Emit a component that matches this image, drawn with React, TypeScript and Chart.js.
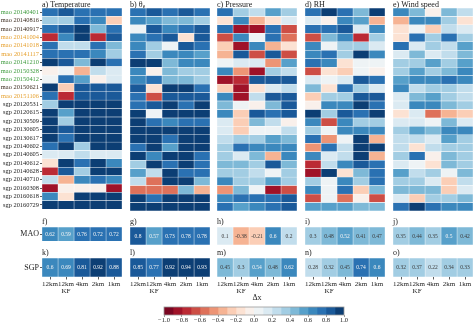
import React, { useEffect, useRef } from 'react';
import { Chart, registerables } from 'chart.js';

Chart.register(...registerables);

const FONT = '"Liberation Serif", "DejaVu Serif", serif';

// ---------- data ----------
const CASES = [
  'mao 20140401', 'mao 20140816', 'mao 20140917', 'mao 20141004', 'mao 20141018',
  'mao 20141117', 'mao 20141210', 'mao 20150328', 'mao 20150412', 'mao 20150621',
  'mao 20151106', 'sgp 20120531', 'sgp 20120615', 'sgp 20130509', 'sgp 20130605',
  'sgp 20130617', 'sgp 20140602', 'sgp 20140605', 'sgp 20140612', 'sgp 20140628',
  'sgp 20140710', 'sgp 20160308', 'sgp 20160618', 'sgp 20160729',
];
const WET = '#3c9a3c';
const DRY = '#3a2a1e';
const TRANS = '#e6a02e';
const SGPC = '#1a1a1a';
const CASE_COLORS = [
  WET, DRY, DRY, TRANS, TRANS, TRANS, WET, WET, WET, DRY, TRANS,
  SGPC, SGPC, SGPC, SGPC, SGPC, SGPC, SGPC, SGPC, SGPC, SGPC, SGPC, SGPC, SGPC,
];

const RESOLUTIONS = ['12km', '12km KF', '4km', '2km', '1km'];
const RESOLUTION_TICKS: (string | string[])[] = ['12km', ['12km', 'KF'], '4km', '2km', '1km'];

const TEMPERATURE = [
  [0.7, 0.85, 0.75, 0.7, 0.75],
  [0.35, 0.3, 0.7, 0.65, -0.3],
  [0.7, 0.85, 0.9, 0.45, 0.7],
  [-0.75, 0.6, 0.9, -0.75, 0.85],
  [0.7, 0.2, 0.25, 0.7, 0.45],
  [0.7, 0.75, 0.7, 0.6, 0.35],
  [0.9, 0.85, 0.45, 0.9, 0.7],
  [-0.1, 0.05, -0.35, 0.2, 0.1],
  [0.05, 0.7, 0.55, -0.05, 0.1],
  [0.9, -0.3, 0.85, 0.85, 0.85],
  [0.7, -0.75, 0.85, 0.85, 0.85],
  [0.35, 0.9, 0.9, 0.9, 0.9],
  [0.9, 0.5, 0.9, 0.9, 0.9],
  [0.9, 0.35, 0.9, 0.9, 0.9],
  [0.9, 0.85, 0.9, 0.9, 0.9],
  [0.9, 0.75, 0.9, 0.9, 0.9],
  [0.7, 0.9, 0.3, 0.9, 0.9],
  [0.1, 0.15, 0.2, 0.15, 0.1],
  [-0.2, 0.9, 0.7, 0.9, 0.6],
  [-0.8, 0.85, 0.3, 0.9, 0.9],
  [0.2, -0.35, 0.65, 0.7, 0.65],
  [-0.9, -0.1, -0.05, -0.05, -0.9],
  [0.65, -0.2, 0.9, 0.9, 0.9],
  [0.9, 0.9, 0.9, 0.9, 0.9],
];

const THETA_E = [
  [0.7, 0.85, 0.7, 0.8, 0.7],
  [0.65, 0.55, 0.4, 0.4, 0.35],
  [0.05, 0.85, 0.65, 0.7, 0.85],
  [0.65, 0.7, 0.8, -0.15, 0.85],
  [0.65, 0.3, 0.05, 0.85, 0.7],
  [0.7, 0.35, 0.6, 0.65, 0.55],
  [0.9, 0.9, 0.45, 0.65, 0.6],
  [0.6, -0.05, 0.4, 0.35, 0.35],
  [0.6, 0.7, 0.45, 0.4, 0.3],
  [0.85, -0.2, 0.9, 0.9, 0.75],
  [0.7, -0.7, 0.85, 0.85, 0.85],
  [0.7, 0.85, 0.9, 0.75, 0.9],
  [0.9, 0.02, 0.9, 0.9, 0.9],
  [0.9, 0.75, 0.6, 0.75, 0.7],
  [0.9, 0.9, 0.9, 0.9, 0.9],
  [0.9, 0.9, 0.75, 0.9, 0.9],
  [0.75, 0.9, 0.5, 0.9, 0.9],
  [0.9, 0.6, 0.9, 0.9, 0.75],
  [0.35, 0.9, 0.75, 0.9, 0.7],
  [0.55, 0.25, 0.9, 0.75, 0.75],
  [0.25, -0.6, 0.9, 0.9, 0.45],
  [-0.6, -0.6, -0.6, 0.45, -0.4],
  [0.9, 0.7, 0.9, 0.9, 0.9],
  [0.9, 0.9, 0.9, 0.9, 0.9],
];

const PRESSURE = [
  [0.7, 0.35, 0.25, 0.55, 0.35],
  [-0.15, 0.65, -0.35, -0.2, 0.1],
  [0.7, -0.9, -0.9, 0.7, -0.7],
  [-0.7, 0.6, 0.05, 0.7, -0.6],
  [-0.25, -0.9, 0.6, -0.35, -0.15],
  [-0.35, 0.85, -0.65, 0.85, -0.7],
  [0.05, 0.1, 0.15, -0.45, 0.55],
  [0.6, -0.45, -0.9, 0.35, 0.2],
  [-0.9, -0.75, 0.85, 0.85, 0.85],
  [-0.25, -0.9, -0.2, 0.1, 0.2],
  [0.6, -0.85, 0.2, 0.85, 0.85],
  [0.4, 0.0, -0.05, 0.4, 0.85],
  [0.6, -0.3, 0.85, 0.75, 0.85],
  [0.1, -0.3, 0.4, 0.25, -0.1],
  [0.1, -0.3, 0.05, 0.05, 0.2],
  [0.25, 0.3, 0.3, 0.55, 0.4],
  [0.35, 0.7, 0.65, 0.65, 0.65],
  [0.3, 0.1, 0.45, -0.35, 0.6],
  [0.45, 0.4, 0.3, 0.85, 0.4],
  [0.3, 0.3, 0.25, 0.05, 0.3],
  [0.65, 0.3, 0.3, 0.55, 0.3],
  [-0.5, 0.4, 0.05, -0.9, -0.65],
  [0.65, 0.75, 0.75, 0.7, 0.85],
  [0.7, 0.5, 0.6, 0.7, 0.85],
];

const RH = [
  [0.7, 0.9, 0.7, 0.4, 0.9],
  [0.1, -0.1, 0.65, 0.55, -0.35],
  [0.7, 0.75, 0.8, 0.1, 0.6],
  [-0.7, 0.4, 0.6, -0.75, 0.35],
  [0.65, 0.05, 0.3, 0.3, 0.15],
  [0.6, 0.75, 0.35, 0.9, 0.65],
  [0.7, 0.65, -0.2, 0.05, 0.05],
  [-0.65, -0.15, -0.25, 0.02, -0.05],
  [0.1, 0.05, 0.15, 0.85, 0.7],
  [0.45, -0.2, 0.7, 0.3, 0.1],
  [-0.25, 0.3, 0.3, 0.85, 0.85],
  [-0.1, 0.65, 0.65, 0.9, 0.7],
  [0.9, 0.3, 0.85, 0.7, 0.9],
  [0.65, -0.65, 0.65, 0.35, 0.35],
  [0.3, 0.05, 0.65, 0.6, 0.6],
  [0.7, -0.5, 0.05, 0.9, -0.4],
  [-0.5, 0.7, 0.2, 0.9, 0.9],
  [0.65, 0.1, 0.25, 0.9, -0.4],
  [-0.75, 0.25, 0.6, 0.85, 0.7],
  [-0.9, 0.9, -0.2, 0.4, 0.75],
  [0.35, 0.05, 0.6, 0.35, 0.7],
  [0.65, 0.05, 0.7, -0.3, 0.45],
  [-0.7, 0.02, -0.6, -0.1, -0.65],
  [0.5, 0.5, 0.5, 0.4, 0.45],
];

const WIND_SPEED = [
  [0.6, 0.45, -0.05, 0.4, 0.25],
  [-0.4, 0.6, 0.65, 0.3, -0.2],
  [-0.2, 0.05, -0.25, 0.2, 0.1],
  [-0.15, 0.75, 0.3, 0.7, 0.3],
  [0.7, 0.1, 0.3, 0.25, 0.55],
  [0.1, 0.4, 0.1, 0.25, 0.4],
  [0.3, 0.3, 0.55, 0.35, 0.55],
  [0.35, 0.55, 0.35, 0.45, 0.6],
  [0.5, 0.65, 0.6, 0.7, 0.6],
  [0.65, 0.25, 0.3, 0.35, 0.25],
  [0.1, 0.45, 0.55, 0.3, 0.2],
  [0.1, 0.6, 0.6, 0.4, 0.35],
  [-0.2, 0.1, -0.55, -0.4, -0.3],
  [0.1, 0.1, 0.05, 0.4, 0.1],
  [0.35, 0.5, 0.4, 0.65, 0.6],
  [0.25, 0.2, 0.1, 0.5, 0.3],
  [0.25, -0.2, 0.25, 0.3, 0.35],
  [0.35, 0.7, -0.1, 0.4, 0.3],
  [0.1, 0.05, -0.15, 0.45, 0.35],
  [0.55, 0.25, 0.3, 0.05, 0.4],
  [0.35, 0.3, 0.1, -0.3, 0.2],
  [0.4, 0.4, 0.4, -0.3, 0.1],
  [0.1, -0.25, 0.35, 0.3, 0.4],
  [0.75, 0.9, 0.7, 0.65, 0.6],
];

const MAO_TEMPERATURE = [0.62, 0.59, 0.76, 0.72, 0.72];
const MAO_THETA_E = [0.8, 0.57, 0.73, 0.78, 0.78];
const MAO_PRESSURE = [0.1, -0.38, -0.21, 0.6, 0.2];
const MAO_RH = [0.3, 0.48, 0.52, 0.41, 0.47];
const MAO_WIND_SPEED = [0.35, 0.44, 0.35, 0.5, 0.42];

const SGP_TEMPERATURE = [0.6, 0.69, 0.81, 0.92, 0.88];
const SGP_THETA_E = [0.85, 0.77, 0.92, 0.94, 0.93];
const SGP_PRESSURE = [0.45, 0.3, 0.54, 0.48, 0.62];
const SGP_RH = [0.28, 0.32, 0.45, 0.74, 0.6];
const SGP_WIND_SPEED = [0.32, 0.37, 0.22, 0.34, 0.33];

const CB_BOUNDS = [-1.0, -0.9, -0.8, -0.7, -0.6, -0.5, -0.4, -0.3, -0.2, -0.1, 0.0,
  0.1, 0.2, 0.3, 0.4, 0.5, 0.6, 0.7, 0.8, 0.9, 1.0];
const CB_TICKS = [-1.0, -0.8, -0.6, -0.4, -0.2, 0.0, 0.2, 0.4, 0.6, 0.8, 1.0];

// ---------- colour map (RdBu, 20 discrete levels) ----------
const RDBU: number[][] = [
  [103, 0, 31], [178, 24, 43], [214, 96, 77], [244, 165, 130], [253, 219, 199],
  [247, 247, 247], [209, 229, 240], [146, 197, 222], [67, 147, 195], [33, 102, 172], [5, 48, 97],
];
function rdbu(t: number): string {
  const x = Math.max(0, Math.min(1, t)) * (RDBU.length - 1);
  const i = Math.min(RDBU.length - 2, Math.floor(x));
  const f = x - i;
  const c = RDBU[i].map((v, k) => Math.round(v + (RDBU[i + 1][k] - v) * f));
  return `rgb(${c[0]},${c[1]},${c[2]})`;
}
const NBINS = CB_BOUNDS.length - 1;
function binColor(k: number): string {
  return rdbu((k + 0.5) / NBINS);
}
function colorFor(v: number): string {
  let k = Math.floor((v - CB_BOUNDS[0]) * 10 + 1e-9);
  k = Math.max(0, Math.min(NBINS - 1, k));
  return binColor(k);
}

// ---------- plugins ----------
function titlePlugin(text: string, sub: string | undefined, size: number, gap: number) {
  return {
    id: 'panelTitle',
    afterDraw(chart: any) {
      const ctx = chart.ctx;
      const { left, top } = chart.chartArea;
      ctx.save();
      ctx.fillStyle = '#222';
      ctx.textAlign = 'left';
      ctx.textBaseline = 'alphabetic';
      ctx.font = `${size}px ${FONT}`;
      ctx.fillText(text, left, top - gap);
      if (sub) {
        const w = ctx.measureText(text).width;
        ctx.font = `${size * 0.7}px ${FONT}`;
        ctx.fillText(sub, left + w + 0.3, top - gap + 1.5);
      }
      ctx.restore();
    },
  };
}

function cellValuePlugin(values: number[][]) {
  return {
    id: 'cellValues',
    afterDatasetsDraw(chart: any) {
      const ctx = chart.ctx;
      ctx.save();
      ctx.font = `5.5px ${FONT}`;
      ctx.textAlign = 'center';
      ctx.textBaseline = 'middle';
      chart.data.datasets.forEach((_ds: any, ci: number) => {
        const meta = chart.getDatasetMeta(ci);
        meta.data.forEach((el: any, ri: number) => {
          const v = values[ri][ci];
          ctx.fillStyle = v >= 0.5 ? '#f4f4f4' : '#3a3a3a';
          ctx.fillText(String(v), (el.x + el.base) / 2, el.y + 0.5);
        });
      });
      ctx.restore();
    },
  };
}

const framePlugin = {
  id: 'frame',
  afterDatasetsDraw(chart: any) {
    const { left, top, width, height } = chart.chartArea;
    const ctx = chart.ctx;
    ctx.save();
    ctx.strokeStyle = '#9a9a9a';
    ctx.lineWidth = 0.8;
    ctx.strokeRect(left, top, width, height);
    ctx.restore();
  },
};

// ---------- heatmap config ----------
type HeatOpts = {
  rows: string[];
  rowColors: string[];
  values: number[][];
  title: string;
  titleSub?: string;
  titleSize: number;
  titleGap: number;
  showRows: boolean;
  rowFontSize: number;
  showCols: boolean;
  annotate: boolean;
  axisTitle?: string;
  padding: { left: number; right: number; top: number; bottom: number };
  rowAxisWidth: number;
  colAxisHeight: number;
};

function heatmapConfig(o: HeatOpts): any {
  const datasets = RESOLUTIONS.map((name, ci) => ({
    label: name,
    data: o.values.map(() => [ci, ci + 1]),
    backgroundColor: o.values.map((r) => colorFor(r[ci])),
    borderColor: '#ffffff',
    borderWidth: 0.5,
    borderSkipped: false,
    grouped: false,
    categoryPercentage: 1,
    barPercentage: 1,
  }));
  const plugins: any[] = [titlePlugin(o.title, o.titleSub, o.titleSize, o.titleGap)];
  if (o.annotate) plugins.push(cellValuePlugin(o.values));
  return {
    type: 'bar',
    data: { labels: o.rows, datasets },
    plugins,
    options: {
      indexAxis: 'y',
      responsive: false,
      animation: false,
      devicePixelRatio: 1,
      events: [],
      layout: { padding: o.padding },
      scales: {
        x: {
          type: 'linear',
          min: 0,
          max: RESOLUTIONS.length,
          display: o.showCols,
          afterBuildTicks: (s: any) => {
            s.ticks = RESOLUTIONS.map((_n, i) => ({ value: i + 0.5 }));
          },
          afterFit: (s: any) => {
            s.height = o.showCols ? o.colAxisHeight : 0;
          },
          ticks: {
            autoSkip: false,
            maxRotation: 0,
            padding: 1,
            color: '#222',
            font: { family: FONT, size: 7, lineHeight: 1.0 },
            callback: (_v: any, i: number) => RESOLUTION_TICKS[i],
          },
          grid: { drawOnChartArea: false, drawTicks: true, tickLength: 2.5, color: '#333', lineWidth: 0.8 },
          border: { display: false },
          title: o.axisTitle
            ? { display: true, text: o.axisTitle, color: '#222', font: { family: FONT, size: 8 }, padding: 0 }
            : { display: false },
        },
        y: {
          type: 'category',
          display: o.showRows,
          offset: true,
          afterFit: (s: any) => {
            s.width = o.showRows ? o.rowAxisWidth : 0;
          },
          ticks: {
            autoSkip: false,
            padding: 1,
            color: (c: any) => o.rowColors[c.index] || '#222',
            font: { family: FONT, size: o.rowFontSize },
          },
          grid: { drawOnChartArea: false, drawTicks: true, tickLength: 2, color: '#333', lineWidth: 0.8, offset: false },
          border: { display: false },
        },
      },
      plugins: {
        legend: { display: false },
        tooltip: { enabled: false },
        title: { display: false },
      },
    },
  };
}

function colorbarConfig(): any {
  const datasets = CB_BOUNDS.slice(0, -1).map((lo, k) => ({
    label: `${lo}`,
    data: [[lo, CB_BOUNDS[k + 1]]],
    backgroundColor: binColor(k),
    borderWidth: 0,
    grouped: false,
    categoryPercentage: 1,
    barPercentage: 1,
  }));
  return {
    type: 'bar',
    data: { labels: ['Δx'], datasets },
    plugins: [framePlugin],
    options: {
      indexAxis: 'y',
      responsive: false,
      animation: false,
      devicePixelRatio: 1,
      events: [],
      layout: { padding: { left: 14, right: 16, top: 4, bottom: 0 } },
      scales: {
        x: {
          type: 'linear',
          min: CB_BOUNDS[0],
          max: CB_BOUNDS[CB_BOUNDS.length - 1],
          afterBuildTicks: (s: any) => {
            s.ticks = CB_TICKS.map((v) => ({ value: v }));
          },
          afterFit: (s: any) => {
            s.height = 8;
          },
          ticks: {
            autoSkip: false,
            maxRotation: 0,
            padding: 0,
            color: '#222',
            font: { family: FONT, size: 6.5, lineHeight: 1 },
            callback: (v: number) => (Math.abs(v) < 1e-9 ? '0.0' : v.toFixed(1).replace('-', '−')),
          },
          grid: { drawOnChartArea: false, drawTicks: true, tickLength: 2, color: '#555', lineWidth: 0.6 },
          border: { display: false },
        },
        y: { type: 'category', display: false },
      },
      plugins: { legend: { display: false }, tooltip: { enabled: false } },
    },
  };
}

// ---------- component ----------
function ChartCanvas(props: { left: number; top: number; width: number; height: number; make: () => any }) {
  const ref = useRef<HTMLCanvasElement>(null);
  useEffect(() => {
    const chart = new Chart(ref.current as HTMLCanvasElement, props.make());
    return () => chart.destroy();
  }, []);
  return (
    <canvas
      ref={ref}
      width={props.width}
      height={props.height}
      style={{ position: 'absolute', left: props.left, top: props.top, width: props.width, height: props.height }}
    />
  );
}

const PANELS = [
  { key: 'a', title: 'a) Temperature', values: TEMPERATURE, mao: MAO_TEMPERATURE, sgp: SGP_TEMPERATURE, left: 42 },
  { key: 'b', title: 'b) θ', sub: 'e', values: THETA_E, mao: MAO_THETA_E, sgp: SGP_THETA_E, left: 130 },
  { key: 'c', title: 'c) Pressure', values: PRESSURE, mao: MAO_PRESSURE, sgp: SGP_PRESSURE, left: 217 },
  { key: 'd', title: 'd) RH', values: RH, mao: MAO_RH, sgp: SGP_RH, left: 305 },
  { key: 'e', title: 'e) Wind speed', values: WIND_SPEED, mao: MAO_WIND_SPEED, sgp: SGP_WIND_SPEED, left: 393 },
];
const MAO_LETTERS = ['f)', 'g)', 'h)', 'i)', 'j)'];
const SGP_LETTERS = ['k)', 'l)', 'm)', 'n)', 'o)'];
const PANEL_W = 80;
const AXIS_W = 42;

export default function App() {
  const charts: any[] = [];
  PANELS.forEach((p, i) => {
    const first = i === 0;
    const left = first ? 0 : p.left - 1;
    const width = first ? p.left + PANEL_W + 1 : PANEL_W + 2;
    const padL = first ? 0 : 1;
    charts.push(
      <ChartCanvas
        key={`h${p.key}`}
        left={left}
        top={0}
        width={width}
        height={214}
        make={() =>
          heatmapConfig({
            rows: CASES,
            rowColors: CASE_COLORS,
            values: p.values,
            title: p.title,
            titleSub: (p as any).sub,
            titleSize: 8,
            titleGap: 1.5,
            showRows: first,
            rowFontSize: 6.4,
            showCols: false,
            annotate: false,
            padding: { left: padL, right: 1, top: 8, bottom: 3 },
            rowAxisWidth: AXIS_W,
            colAxisHeight: 0,
          })
        }
      />
    );
    charts.push(
      <ChartCanvas
        key={`m${p.key}`}
        left={left}
        top={215}
        width={width}
        height={32}
        make={() =>
          heatmapConfig({
            rows: ['MAO'],
            rowColors: ['#222'],
            values: [p.mao],
            title: MAO_LETTERS[i],
            titleSize: 8,
            titleGap: 3,
            showRows: first,
            rowFontSize: 8,
            showCols: false,
            annotate: true,
            padding: { left: padL, right: 1, top: 12, bottom: 2 },
            rowAxisWidth: AXIS_W,
            colAxisHeight: 0,
          })
        }
      />
    );
    charts.push(
      <ChartCanvas
        key={`s${p.key}`}
        left={left}
        top={247}
        width={width}
        height={56}
        make={() =>
          heatmapConfig({
            rows: ['SGP'],
            rowColors: ['#222'],
            values: [p.sgp],
            title: SGP_LETTERS[i],
            titleSize: 8,
            titleGap: 3,
            showRows: first,
            rowFontSize: 8,
            showCols: true,
            annotate: true,
            axisTitle: i === 2 ? 'Δx' : undefined,
            padding: { left: padL, right: 1, top: 11, bottom: 0 },
            rowAxisWidth: AXIS_W,
            colAxisHeight: 26,
          })
        }
      />
    );
  });
  return (
    <div style={{ position: 'absolute', left: 0, top: 0, width: 474, height: 323, background: '#fff', overflow: 'hidden' }}>
      {charts}
      <ChartCanvas key="cb" left={150} top={303} width={210} height={20} make={colorbarConfig} />
    </div>
  );
}
